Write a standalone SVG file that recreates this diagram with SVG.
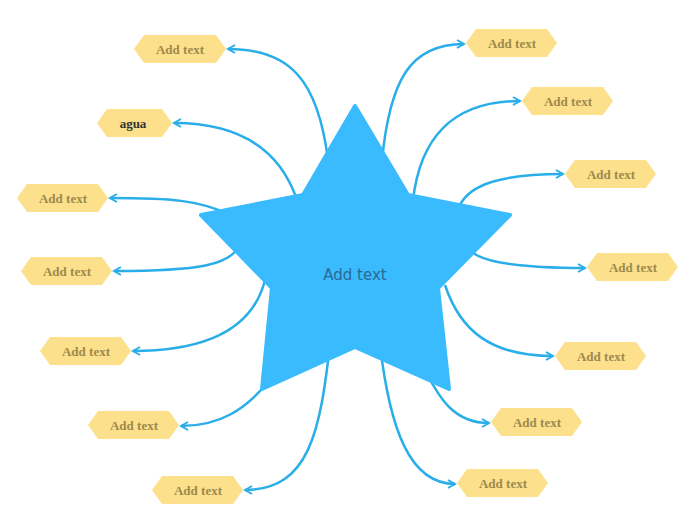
<svg xmlns="http://www.w3.org/2000/svg" width="696" height="520" viewBox="0 0 696 520">
<style>
.c{fill:none;stroke:#2aaee9;stroke-width:2.5;marker-end:url(#a)}
.h{fill:#fde08b}
.t{font-family:"Liberation Serif",serif;font-weight:bold;font-size:13px;fill:#9c8a4d;text-anchor:middle;dominant-baseline:central}
</style>
<defs><marker id="a" viewBox="0 0 10 10" refX="8" refY="5" markerWidth="4" markerHeight="4" orient="auto" markerUnits="strokeWidth"><path d="M1 1L8 5L1 9" fill="none" stroke="#2aaee9" stroke-width="2"/></marker></defs>
<g id="connectors">
<path class="c" d="M328 160C318 80 290 49 228 49"/>
<path class="c" d="M297 200C280 150 240 123 174 123"/>
<path class="c" d="M230 215C200 200 170 198 110 198"/>
<path class="c" d="M240 245C230 265 200 271 114 271"/>
<path class="c" d="M265 280C255 320 220 351 133 351"/>
<path class="c" d="M270 380C245 410 220 426 181 426"/>
<path class="c" d="M330 345C320 430 310 490 245 490"/>
<path class="c" d="M382 160C390 80 410 44 464 44"/>
<path class="c" d="M413 200C420 140 450 101 520 101"/>
<path class="c" d="M460 205C470 185 500 174 563 174"/>
<path class="c" d="M470 250C480 262 520 268 585 268"/>
<path class="c" d="M445 285C460 330 490 356 553 356"/>
<path class="c" d="M425 370C440 400 455 423 489 423"/>
<path class="c" d="M380 345C390 430 410 484 455 484"/>
</g>
<g id="center">
<path d="M355 106L408 195L510 215L438 288L449 389L355 347L262 389L272 288L201 215L303 195Z" fill="#39bbfd" stroke="#39bbfd" stroke-width="4" stroke-linejoin="round"/>
<text x="355" y="275" font-family="DejaVu Sans,sans-serif" font-size="15" fill="#2b6a96" text-anchor="middle" dominant-baseline="central">Add text</text>
</g>
<g id="n1"><path class="h" d="M144 35H216L226 49L216 63H144L134 49Z"/><text class="t" x="180" y="49">Add text</text></g>
<g id="n2"><path class="h" d="M107 109H162L172 123L162 137H107L97 123Z"/><text class="t" x="133" y="123" style="fill:#333">agua</text></g>
<g id="n3"><path class="h" d="M27 184H98L108 198L98 212H27L17 198Z"/><text class="t" x="63" y="198">Add text</text></g>
<g id="n4"><path class="h" d="M31 257H102L112 271L102 285H31L21 271Z"/><text class="t" x="67" y="271">Add text</text></g>
<g id="n5"><path class="h" d="M50 337H121L131 351L121 365H50L40 351Z"/><text class="t" x="86" y="351">Add text</text></g>
<g id="n6"><path class="h" d="M98 411H169L179 425L169 439H98L88 425Z"/><text class="t" x="134" y="425">Add text</text></g>
<g id="n7"><path class="h" d="M162 476H233L243 490L233 504H162L152 490Z"/><text class="t" x="198" y="490">Add text</text></g>
<g id="n8"><path class="h" d="M476 29H547L557 43L547 57H476L466 43Z"/><text class="t" x="512" y="43">Add text</text></g>
<g id="n9"><path class="h" d="M532 87H603L613 101L603 115H532L522 101Z"/><text class="t" x="568" y="101">Add text</text></g>
<g id="n10"><path class="h" d="M575 160H646L656 174L646 188H575L565 174Z"/><text class="t" x="611" y="174">Add text</text></g>
<g id="n11"><path class="h" d="M597 253H668L678 267L668 281H597L587 267Z"/><text class="t" x="633" y="267">Add text</text></g>
<g id="n12"><path class="h" d="M565 342H636L646 356L636 370H565L555 356Z"/><text class="t" x="601" y="356">Add text</text></g>
<g id="n13"><path class="h" d="M501 408H572L582 422L572 436H501L491 422Z"/><text class="t" x="537" y="422">Add text</text></g>
<g id="n14"><path class="h" d="M467 469H538L548 483L538 497H467L457 483Z"/><text class="t" x="503" y="483">Add text</text></g>
</svg>
